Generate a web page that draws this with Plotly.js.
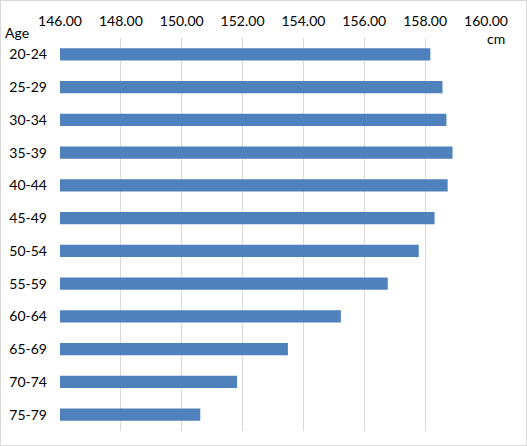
<!DOCTYPE html>
<html>
<head>
<meta charset="utf-8">
<script src="https://cdn.plot.ly/plotly-3.0.1.min.js"></script>
<style>
html,body{margin:0;padding:0;background:#fff;}
#chart{position:absolute;left:0;top:0;width:525px;height:444px;border:1px solid #d9d9d9;}
</style>
</head>
<body>
<div id="chart"></div>
<script>
const ageGroups = ["20-24","25-29","30-34","35-39","40-44","45-49","50-54","55-59","60-64","65-69","70-74","75-79"];
const heightsCm = [158.17,158.57,158.70,158.90,158.74,158.31,157.79,156.77,155.23,153.49,151.82,150.61];
const xTickValues = [146,148,150,152,154,156,158,160];

const W = 525, H = 444;
const margin = {l:59, r:40, t:37, b:14};
const pw = W - margin.l - margin.r, ph = H - margin.t - margin.b;
const font = "Lato, 'Open Sans', sans-serif";
const baseline = 146;

const trace = {
  type: "bar",
  orientation: "h",
  y: ageGroups,
  x: heightsCm.map(v => v - baseline),
  base: baseline,
  marker: {color: "#4f81bd"},
  hoverinfo: "none"
};

const layout = {
  width: W, height: H,
  margin: margin,
  paper_bgcolor: "#fff", plot_bgcolor: "#fff",
  showlegend: false,
  bargap: 0.63,
  font: {family: font, size: 14, color: "#000"},
  xaxis: {
    side: "top",
    range: [146, 160],
    tickvals: xTickValues,
    ticktext: xTickValues.map(v => v.toFixed(2)),
    showgrid: true, gridcolor: "#d9d9d9", gridwidth: 1,
    zeroline: false, showline: false, ticks: "",
    ticklabelstandoff: 8,
    tickfont: {family: font, size: 14, color: "#000"}
  },
  yaxis: {
    type: "category",
    categoryorder: "array",
    categoryarray: ageGroups,
    autorange: "reversed",
    showgrid: false, zeroline: false, showline: false, ticks: "",
    ticklabelstandoff: 12,
    tickfont: {family: font, size: 14, color: "#000"}
  },
  annotations: [
    {text: "Age", xref: "paper", yref: "paper", x: (2 - margin.l)/pw, y: 1 + (37 - 32)/ph,
     xanchor: "left", yanchor: "middle", showarrow: false, font: {family: font, size: 14, color: "#000"}},
    {text: "cm", xref: "paper", yref: "paper", x: (495 - margin.l)/pw, y: 1 + (37 - 38)/ph,
     xanchor: "center", yanchor: "middle", showarrow: false, font: {family: font, size: 14, color: "#000"}}
  ]
};

Plotly.newPlot("chart", [trace], layout, {displayModeBar: false, staticPlot: true});
</script>
</body>
</html>
